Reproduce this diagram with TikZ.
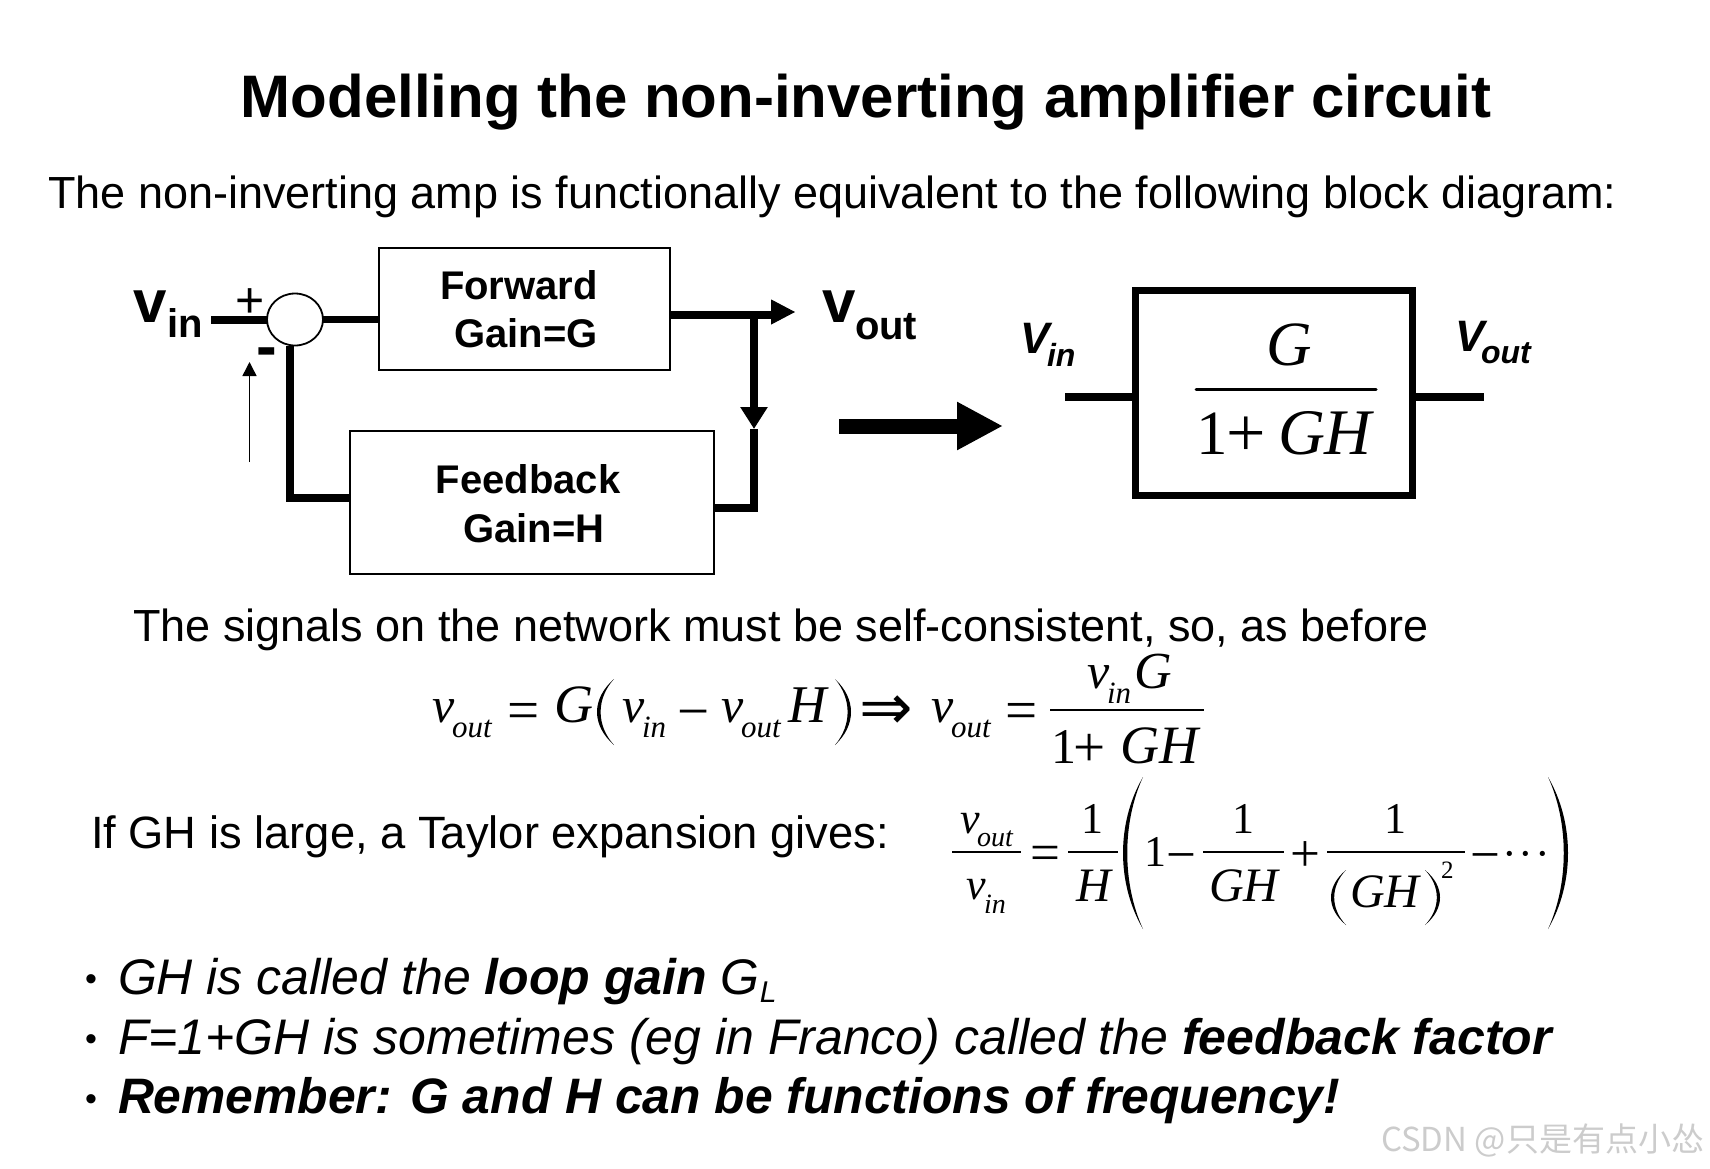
\documentclass[tikz,border=0pt]{standalone}
\usepackage{fontspec}
\setmainfont{Liberation Sans}
\newfontfamily\mserif{Liberation Serif}
\newfontfamily\djv{DejaVu Sans}
\newfontfamily\cjkf{Noto Sans CJK SC}
\usetikzlibrary{arrows.meta,shapes.geometric}
\newcommand{\fsz}[1]{\fontsize{#1}{#1}\selectfont}
\newcommand{\LP}[4]{\begin{scope}[shift={(#1,#3)},xscale=#2-#1,yscale=#4-#3]\fill (1,0) .. controls (-.333,.3) and (-.333,.7) .. (1,1) .. controls (-.05,.7) and (-.05,.3) .. (1,0);\end{scope}}
\newcommand{\RP}[4]{\begin{scope}[shift={(#2,#3)},xscale=#1-#2,yscale=#4-#3]\fill (1,0) .. controls (-.333,.3) and (-.333,.7) .. (1,1) .. controls (-.05,.7) and (-.05,.3) .. (1,0);\end{scope}}
\tikzset{
  tb/.style={anchor=base west,inner sep=0pt,outer sep=0pt},
  tc/.style={anchor=base,inner sep=0pt,outer sep=0pt},
  blockbox/.style={draw,line width=1.8pt,inner sep=0pt,outer sep=0pt},
  wire/.style={line width=7.5pt,line cap=butt,line join=miter},
  fracline/.style={line width=2.2pt},
  lbl/.style={tc,font=\fsz{40}\bfseries},
  sym/.style={tb,font=\fsz{50}\mserif\itshape},
  sub/.style={tb,font=\fsz{31}\mserif\itshape},
  rom/.style={tb,font=\fsz{50}\mserif},
  opa/.style={tb,font=\fsz{57}\mserif},
  symb/.style={tb,font=\fsz{44}\mserif\itshape},
  symc/.style={tb,font=\fsz{48}\mserif\itshape},
  subb/.style={tb,font=\fsz{28}\mserif\itshape},
  romb/.style={tb,font=\fsz{44}\mserif},
  opb/.style={tb,font=\fsz{53}\mserif},
  body/.style={tb,font=\fsz{45}},
  bul/.style={tb,font=\fsz{50}\itshape},
}
\begin{document}
\begin{tikzpicture}[x=1pt,y=-1pt]
\useasboundingbox (0,0) rectangle (1710,1168);
% texts
\node[tc,font=\fsz{60}\bfseries] (title) at (866,117) {Modelling the non-inverting amplifier circuit};
\node[body] (intro) at (48,208) {The non-inverting amp is functionally equivalent to the following block diagram:};
\node[body] (signals) at (133,641) {The signals on the network must be self-consistent, so, as before};
\node[body,font=\fsz{45.3}] (taylor) at (91,848) {If GH is large, a Taylor expansion gives:};
% left block diagram
\node[blockbox,minimum width=291pt,minimum height=122pt] (fwd) at (524.5,309) {};
\node[blockbox,minimum width=364pt,minimum height=143pt] (fbk) at (532,502.5) {};
\node[lbl] (fwd1) at (519,299) {Forward};
\node[lbl] (fwd2) at (526,347) {Gain=G};
\node[lbl] (fbk1) at (528,493) {Feedback};
\node[lbl] (fbk2) at (534,542) {Gain=H};
\node[draw,ellipse,line width=1.8pt,minimum width=56pt,minimum height=52pt,inner sep=0pt,outer sep=0pt] (sum) at (295,319.5) {};
\node[tb,font=\fsz{60}\bfseries] (vinV) at (133,322) {v};
\node[tb,font=\fsz{40}\bfseries] (vinS) at (167,337) {in};
\node[tb,font=\fsz{60}\bfseries] (voutV) at (822,322) {v};
\node[tb,font=\fsz{40}\bfseries] (voutS) at (855,339) {out};
\node[anchor=center,inner sep=0pt,font=\fsz{50}] (plus) at (250,303) {+};
\node[anchor=center,inner sep=0pt,font=\fsz{62}\bfseries] (minus) at (267,358) {-};
\coordinate (vinEnd) at (211,320);
\coordinate (outBase) at (771,315);
\coordinate (headS) at (770,312);
\coordinate (outTip) at (795,312);
\coordinate (jOut) at (754,315);
\coordinate (jMid) at (754,429);
\coordinate (jFb) at (754,508);
\coordinate (jLeft) at (290,498);
\coordinate (fbArrowS) at (249.5,462);
\coordinate (fbArrowE) at (249.5,362);
\draw[wire] (vinEnd) -- (vinEnd -| sum.west);
\draw[wire] (sum.east) -- (sum.east -| fwd.west);
\draw[wire,line width=8pt] (outBase -| fwd.east) -- (outBase);
\draw[line width=1pt,-{Triangle[length=24pt,width=25pt]}] (headS) -- (outTip);
\draw[wire,-{Triangle[length=22pt,width=26pt]}] (jOut) -- (jMid);
\draw[wire] (jMid) -- (jFb) -- (jFb -| fbk.east);
\draw[wire] (jLeft |- sum.south) -- (jLeft) -- (jLeft -| fbk.west);
\draw[line width=1.5pt,-{Triangle[length=14pt,width=14pt]}] (fbArrowS) -- (fbArrowE);
% big arrow
\coordinate (bigS) at (839,426);
\coordinate (bigE) at (1003,426);
\draw[line width=15pt,-{Triangle[length=46pt,width=45pt]}] (bigS) -- (bigE);
% right block
\node[draw,line width=7pt,inner sep=0pt,outer sep=3.5pt,minimum width=277pt,minimum height=205pt] (tf) at (1274,393) {};
\coordinate (lIn) at (1065,397);
\coordinate (lOut) at (1484,397);
\draw[wire] (lIn) -- (lIn -| tf.west);
\draw[wire] (lIn -| tf.east) -- (lOut);
\node[tb,font=\fsz{44}\bfseries\itshape] (rvinV) at (1020,353) {V};
\node[tb,font=\fsz{32}\bfseries\itshape] (rvinS) at (1047,366) {in};
\node[tb,font=\fsz{44}\bfseries\itshape] (rvoutV) at (1455,351) {V};
\node[tb,font=\fsz{32}\bfseries\itshape] (rvoutS) at (1481,363) {out};
\node[tb,font=\fsz{63}\mserif\itshape] (tfG) at (1266,365) {G};
\draw[line width=3pt,line cap=round] (1196,389) -- (1376,389);
\node[tb,font=\fsz{63}\mserif] (tf1) at (1196,454) {1};
\node[tb,font=\fsz{70}\mserif] (tfp) at (1226,456) {+};
\node[tb,font=\fsz{65}\mserif\itshape] (tfGH) at (1278,454) {GH};
% equation 1
\node[sym] (e1a) at (432,722) {v};
\node[sub] (e1b) at (452,737) {out};
\node[opa] (e1c) at (507,729) {=};
\node[sym,font=\fsz{54}\mserif\itshape] (e1d) at (554,722) {G};
\LP{597}{614}{679}{745}
\node[sym] (e1e) at (622,722) {v};
\node[sub] (e1f) at (642,737) {in};
\node[opa] (e1g) at (677,730) {−};
\node[sym] (e1h) at (721,722) {v};
\node[sub] (e1i) at (741,737) {out};
\node[sym,font=\fsz{53}\mserif\itshape] (e1j) at (788,722) {H};
\RP{835}{851}{679}{745}
\node[tb,font=\fsz{64}\djv] (e1k) at (859,729) {⇒};
\node[sym] (e1l) at (931,722) {v};
\node[sub] (e1m) at (951,737) {out};
\node[opa] (e1n) at (1005,729) {=};
\draw[fracline] (1050,710) -- (1204,710);
\node[sym] (e1o) at (1087,688) {v};
\node[sub] (e1p) at (1107,703) {in};
\node[sym,font=\fsz{52}\mserif\itshape] (e1q) at (1134,688) {G};
\node[rom] (e1r) at (1051,763) {1};
\node[opa] (e1s) at (1073,766) {+};
\node[sym,font=\fsz{54}\mserif\itshape] (e1t) at (1120,763) {GH};
% equation 2
\node[symb] (e2a) at (960,833) {v};
\node[subb] (e2b) at (977,846) {out};
\draw[fracline] (952,852) -- (1021,852);
\node[symb] (e2c) at (966,899) {v};
\node[subb] (e2d) at (984,913) {in};
\node[opb] (e2e) at (1030,870) {=};
\node[romb] (e2f) at (1081,833) {1};
\draw[fracline] (1068,852) -- (1118,852);
\node[symc] (e2g) at (1076,901) {H};
\LP{1123}{1143}{777}{929}
\node[romb] (e2h) at (1144,866) {1};
\node[opb] (e2i) at (1166,872) {−};
\draw[fracline] (1203,852) -- (1284,852);
\node[romb] (e2j) at (1232,833) {1};
\node[symc] (e2k) at (1209,901) {GH};
\node[opb] (e2l) at (1290,871) {+};
\draw[fracline] (1327,852) -- (1465,852);
\node[romb] (e2m) at (1384,833) {1};
\LP{1331}{1346}{870}{925}
\node[symc] (e2n) at (1350,907) {GH};
\RP{1425}{1440}{870}{925}
\node[tb,font=\fsz{25}\mserif] (e2o) at (1441,878) {2};
\node[opb] (e2p) at (1470,872) {−};
\node[romb] (e2q) at (1502,868) {·\kern2pt·\kern2pt·};
\RP{1548}{1568}{777}{929}
% bullets
\node[tb,font=\fsz{34}] (b1) at (85,990) {•};
\node[tb,font=\fsz{34}] (b2) at (85,1050) {•};
\node[tb,font=\fsz{34}] (b3) at (85,1110) {•};
\node[bul] (t1) at (118,994) {GH is called the \textbf{loop gain} G\raisebox{-8pt}{\fsz{30}L}};
\node[bul] (t2) at (118,1054) {F=1+GH is sometimes (eg in Franco) called the \textbf{feedback factor}};
\node[bul,font=\fsz{49.8}\bfseries\itshape] (t3) at (118,1113) {Remember: G and H can be functions of frequency!};
% watermark
\node[tb,font=\fsz{33}\cjkf,text=black!20] (wm) at (1381,1151) {CSDN @只是有点小怂};
\end{tikzpicture}
\end{document}
